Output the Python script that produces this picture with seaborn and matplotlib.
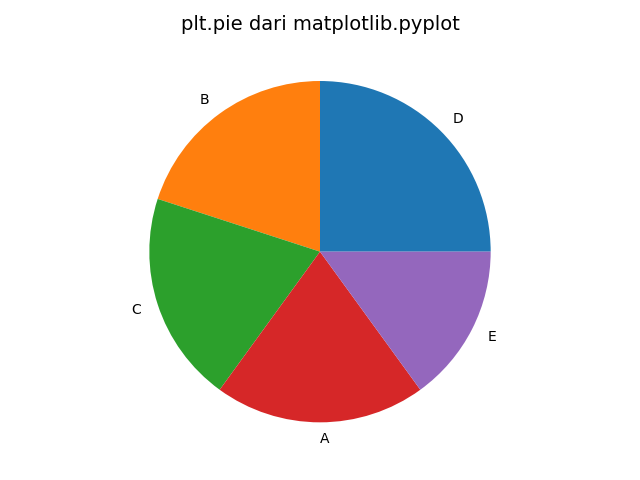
import matplotlib
matplotlib.use("Agg")
import matplotlib.pyplot as plt
import seaborn as sns

# data
labels = ["D", "B", "C", "A", "E"]
sizes = [25, 20, 20, 20, 15]

colors = sns.color_palette("tab10", len(labels))

fig, ax = plt.subplots(figsize=(6.4, 4.8), dpi=100)
ax.pie(sizes, labels=labels, colors=colors)
ax.set_title("plt.pie dari matplotlib.pyplot", fontsize=14)
plt.tight_layout()

fig.savefig("out.png", dpi=100)
